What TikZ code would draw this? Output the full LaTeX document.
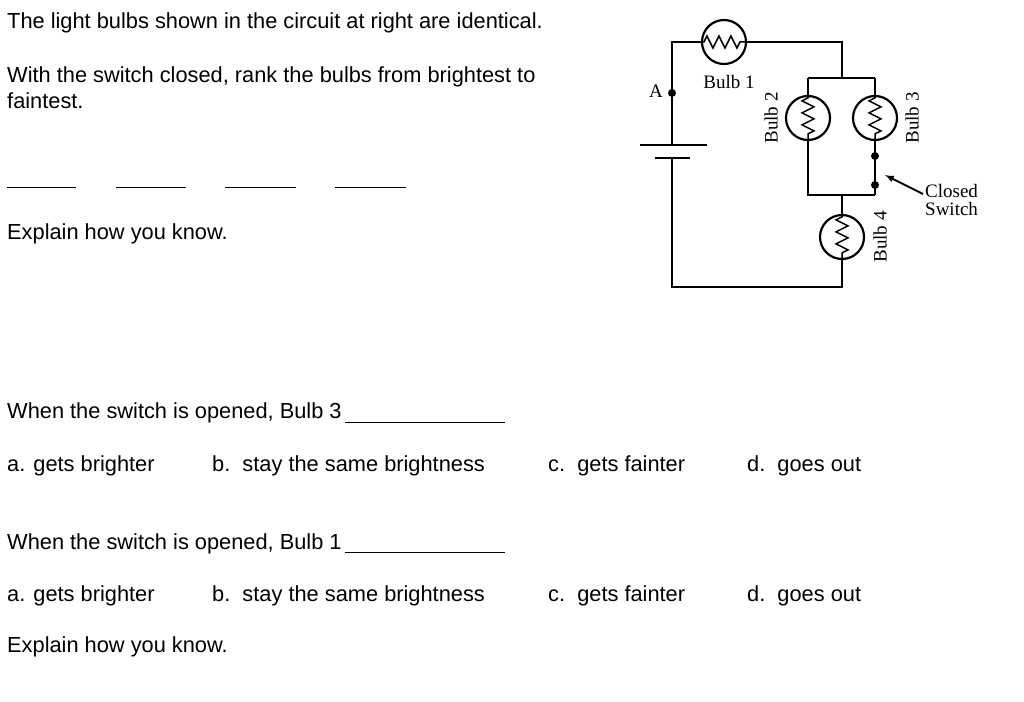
\documentclass[tikz,border=0pt]{standalone}
\usepackage{fontspec}
\setmainfont{Liberation Sans}
\newfontfamily\serf{Liberation Serif}
\begin{document}
\begin{tikzpicture}[x=1pt,y=-1pt,
  txt/.style={anchor=base west,inner sep=0,font=\fontsize{21.8}{25}\selectfont},
  lab/.style={inner sep=0,font=\serf\fontsize{19}{20}\selectfont},
  bulb/.style={circle,draw,line width=2.2pt,minimum size=44pt,inner sep=0},
  w/.style={line width=2.2pt},
  dotn/.style={circle,fill,inner sep=0,minimum size=8pt}]
\useasboundingbox (0,0) rectangle (1024,701);
\node[txt] (t1) at (7,29) {The light bulbs shown in the circuit at right are identical.};
\node[txt] (t2) at (7,82) {With the switch closed, rank the bulbs from brightest to};
\node[txt] (t3) at (7,108) {faintest.};
\foreach \a/\b in {7/76,116/186,225/296,335/406}{\draw[line width=0.8pt] (\a,187)--(\b,187);}
\node[txt] (t4) at (7,239) {Explain how you know.};
\node[txt] (q1) at (7,418) {When the switch is opened, Bulb 3};
\draw[line width=0.8pt] (345,422)--(505,422);
\node[txt] (a1) at (7,471) {a. gets brighter};
\node[txt] (b1) at (212,471) {b.\ \ stay the same brightness};
\node[txt] (c1) at (548,471) {c.\ \ gets fainter};
\node[txt] (d1) at (747,471) {d.\ \ goes out};
\node[txt] (q2) at (7,549) {When the switch is opened, Bulb 1};
\draw[line width=0.8pt] (345,552)--(505,552);
\node[txt] (a2) at (7,601) {a. gets brighter};
\node[txt] (b2) at (212,601) {b.\ \ stay the same brightness};
\node[txt] (c2) at (548,601) {c.\ \ gets fainter};
\node[txt] (d2) at (747,601) {d.\ \ goes out};
\node[txt] (t5) at (7,652) {Explain how you know.};
% circuit
\node[bulb] (B1) at (724,42) {};
\node[bulb] (B2) at (808,118) {};
\node[bulb] (B3) at (875,118) {};
\node[bulb] (B4) at (842,237) {};
\draw[w] (B1.west) -- (672,42) -- (672,145);
\draw[w] (640,145) -- (707,145);
\draw[w] (655,158) -- (690,158);
\draw[w] (672,158) -- (672,287) -- (842,287) -- (B4.south);
\draw[w] (B1.east) -- (842,42) -- (842,78);
\draw[w] (808,78) -- (875,78);
\draw[w] (808,78) -- (B2.north); \draw[w] (875,78) -- (B3.north);
\draw[w] (B2.south) -- (808,195) -- (875,195);
\draw[w] (B3.south) -- (875,195);
\draw[w] (842,195) -- (B4.north);
\node[dotn] (A) at (672,93) {};
\node[dotn] (s1) at (875,156) {};
\node[dotn] (s2) at (875,185) {};
% zigzags
\draw[line width=1.5pt,line join=miter] (B1.west) -- ++(3,0) -- ++(3,-6) -- ++(6,12) -- ++(6,-12) -- ++(6,12) -- ++(6,-12) -- ++(6,12) -- ++(3,-6) -- (B1.east);
\foreach \b in {B2,B3,B4}{
\draw[line width=1.5pt,line join=miter] (\b.north) -- ++(0,3) -- ++(-6,3) -- ++(12,6) -- ++(-12,6) -- ++(12,6) -- ++(-12,6) -- ++(12,6) -- ++(-6,3) -- (\b.south);}
\node[lab,anchor=east] (LA) at (663,91) {A};
\node[lab] (L1) at (729,82) {Bulb 1};
\node[lab,rotate=90] (L2) at (771,118) {Bulb 2};
\node[lab,rotate=90] (L3) at (912,118) {Bulb 3};
\node[lab,rotate=90] (L4) at (880,237) {Bulb 4};
\node[lab,align=left,anchor=west] (LS) at (925,200) {Closed\\[-2pt]Switch};
\draw[line width=2pt,-latex] (923,194) -- (885,175);
\end{tikzpicture}
\end{document}
